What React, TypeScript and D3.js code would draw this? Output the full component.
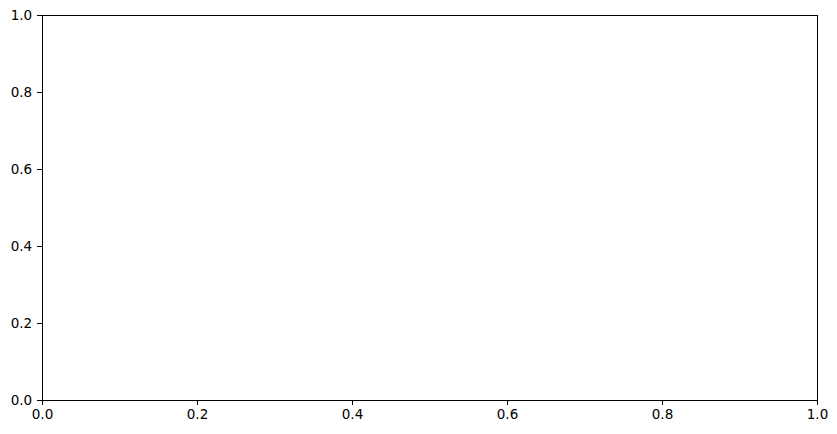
import React, { useEffect, useRef } from 'react';
import * as d3 from 'd3';

const xTicks = [0, 0.2, 0.4, 0.6, 0.8, 1.0];
const yTicks = [0, 0.2, 0.4, 0.6, 0.8, 1.0];
const xDomain = [0, 1];
const yDomain = [0, 1];

const App = () => {
  const svgRef = useRef(null);

  const width = 837;
  const height = 434;
  const margin = { top: 15, right: 20, bottom: 34, left: 42 };

  useEffect(() => {
    const svg = d3.select(svgRef.current);

    const xScale = d3.scaleLinear()
      .domain(xDomain)
      .range([margin.left, width - margin.right]);

    const yScale = d3.scaleLinear()
      .domain(yDomain)
      .range([height - margin.bottom, margin.top]);

    const styleAxis = (g: any) => {
      g.select('.domain').remove();
      g.selectAll('.tick line')
        .attr('stroke', '#000')
        .attr('stroke-width', 1)
        .attr('shape-rendering', 'crispEdges');
      g.selectAll('text')
        .attr('font-family', 'DejaVu Sans')
        .attr('font-size', 13.5)
        .attr('fill', '#000');
    };

    const xAxis: any = d3.axisBottom(xScale)
      .tickValues(xTicks)
      .tickFormat(d3.format('.1f'))
      .tickSize(4.8)
      .tickPadding(5)
      .tickSizeOuter(0);

    svg.select('.x-axis')
      .call(xAxis)
      .call(styleAxis);

    const yAxis: any = d3.axisLeft(yScale)
      .tickValues(yTicks)
      .tickFormat(d3.format('.1f'))
      .tickSize(4.8)
      .tickPadding(5)
      .tickSizeOuter(0);

    svg.select('.y-axis')
      .call(yAxis)
      .call(styleAxis);

    svg.select('.frame')
      .attr('x', margin.left)
      .attr('y', margin.top)
      .attr('width', width - margin.left - margin.right)
      .attr('height', height - margin.top - margin.bottom);
  }, []);

  return (
    <svg
      ref={svgRef}
      width={width}
      height={height}
      style={{ position: 'fixed', left: 0, top: 0, background: '#fff' }}
    >
      <g className="x-axis" transform={`translate(0, ${height - margin.bottom})`} />
      <g className="y-axis" transform={`translate(${margin.left}, 0)`} />
      <rect className="frame" fill="none" stroke="#000" strokeWidth={1} shapeRendering="crispEdges" />
    </svg>
  );
};

export default App;
